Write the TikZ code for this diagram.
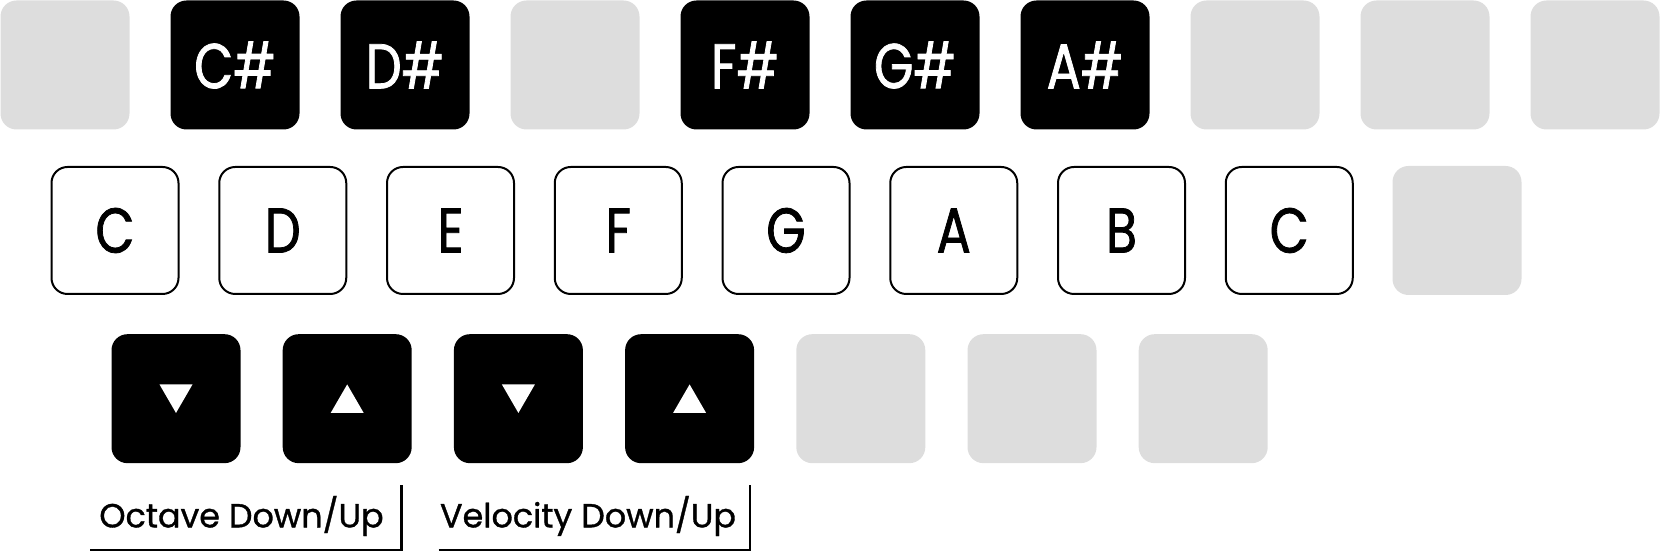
\documentclass[tikz,border=0pt]{standalone}
\usepackage{xcolor}
\usepackage{fontspec}
\setmainfont{Poppins}
\newfontfamily\padfont{Poppins}[FakeStretch=0.8,FakeBold=1.2]
\newfontfamily\captionfont{Poppins}[FakeBold=1]
\usetikzlibrary{positioning}

\definecolor{padgrey}{HTML}{DDDDDD}

\begin{document}
\begin{tikzpicture}[node distance=3.4cm,
                    pad/.style={rectangle,rounded corners=0.32cm,minimum width=2.58cm,minimum height=2.58cm,inner sep=0pt,font=\padfont\fontsize{36}{36}\selectfont},
                    black pad/.style={pad,fill=black,text=white},
                    white pad/.style={pad,draw=black,line width=0.04cm,fill=white,minimum width=2.54cm,minimum height=2.54cm},
                    grey pad/.style={pad,fill=padgrey},
                    caption/.style={font=\captionfont\fontsize{19}{19}\selectfont},
                    bracket/.style={line width=0.05cm}]

  \useasboundingbox (0,0) rectangle (33.2,11.04);

  % sharps
  \node[grey pad] (g1) at (1.3,9.74) {};
  \node[black pad] (cs) [right of=g1] {C\#};
  \node[black pad] (ds) [right of=cs] {D\#};
  \node[grey pad] (g2) [right of=ds] {};
  \node[black pad] (fs) [right of=g2] {F\#};
  \node[black pad] (gs) [right of=fs] {G\#};
  \node[black pad] (as) [right of=gs] {A\#};
  \node[grey pad] (g3) [right of=as] {};
  \node[grey pad] (g4) [right of=g3] {};
  \node[grey pad] (g5) [right of=g4] {};

  % naturals
  \begin{scope}[node distance=3.355cm]
  \node[white pad] (c) at (2.3,6.43) {C};
  \node[white pad] (d) [right of=c] {D};
  \node[white pad] (e) [right of=d] {E};
  \node[white pad] (f) [right of=e] {F};
  \node[white pad] (g) [right of=f] {G};
  \node[white pad] (a) [right of=g] {A};
  \node[white pad] (b) [right of=a] {B};
  \node[white pad] (c2) [right of=b] {C};
  \node[grey pad] (g6) [right of=c2] {};
  \end{scope}

  % octave and velocity
  \begin{scope}[node distance=3.424cm]
  \node[black pad] (octdown) at (3.52,3.066) {};
  \node[black pad] (octup) [right of=octdown] {};
  \node[black pad] (veldown) [right of=octup] {};
  \node[black pad] (velup) [right of=veldown] {};
  \node[grey pad] (g7) [right of=velup] {};
  \node[grey pad] (g8) [right of=g7] {};
  \node[grey pad] (g9) [right of=g8] {};
  \end{scope}

  \fill[white] (octdown) ++(-0.33,0.285) -- ++(0.66,0) -- ++(-0.33,-0.57) -- cycle;
  \fill[white] (octup) ++(-0.33,-0.285) -- ++(0.66,0) -- ++(-0.33,0.57) -- cycle;
  \fill[white] (veldown) ++(-0.33,0.285) -- ++(0.66,0) -- ++(-0.33,-0.57) -- cycle;
  \fill[white] (velup) ++(-0.33,-0.285) -- ++(0.66,0) -- ++(-0.33,0.57) -- cycle;

  \node[caption] (octave) at (4.83,0.72) {Octave Down/Up};
  \node[caption] (velocity) at (11.76,0.72) {Velocity Down/Up};

  \coordinate (octstart) at (1.8,0.04);
  \coordinate (octcorner) at (8.03,0.04);
  \coordinate (octtop) at (8.03,1.34);
  \coordinate (velstart) at (8.77,0.04);
  \coordinate (velcorner) at (15.0,0.04);
  \coordinate (veltop) at (15.0,1.34);

  \draw[bracket] (octstart) -- (octcorner) -- (octtop);
  \draw[bracket] (velstart) -- (velcorner) -- (veltop);

\end{tikzpicture}
\end{document}
